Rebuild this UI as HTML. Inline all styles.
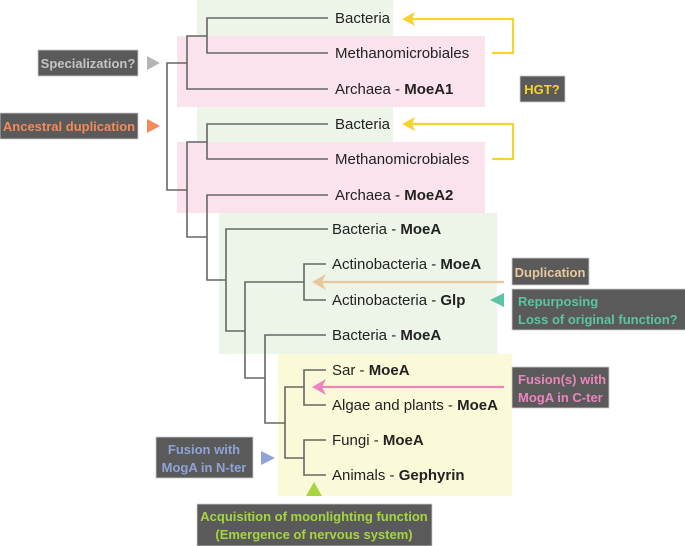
<!DOCTYPE html>
<html><head><meta charset="utf-8"><style>
html,body{margin:0;padding:0;background:#fff;}
svg{display:block;font-family:"Liberation Sans","DejaVu Sans",sans-serif;}
.l{font-size:15px;fill:#222;}
.b{font-weight:bold;}
.box{fill:#5a5a5a;stroke:#ccc;stroke-width:0.8;}
.t{font-size:13px;font-weight:bold;}
</style></head><body>
<svg width="685" height="546" viewBox="0 0 685 546" xmlns="http://www.w3.org/2000/svg">
<rect x="197" y="0" width="196" height="107" fill="#edf5e9"/>
<rect x="177" y="36" width="308" height="71" fill="#fbe3ee"/>
<rect x="197" y="107" width="196" height="106" fill="#edf5e9"/>
<rect x="177" y="142" width="308" height="71" fill="#fbe3ee"/>
<rect x="219" y="213" width="278" height="141" fill="#edf5e9"/>
<rect x="278" y="354" width="234" height="142" fill="#fbfad8"/>
<g stroke="#666" stroke-width="1.6" fill="none">
<path d="M328 18H207V53H328M207 36H187V89H328M187 63H167V190H187"/>
<path d="M328 124H207V159H328M207 142H187V237H207M328 195H207V280H226"/>
<path d="M328 229H226V331H245M326 264H304V300H326M304 282H245V378H265"/>
<path d="M326 335H265V423H285M326 370H304V405H326M304 387H285V458H304M326 440H304V475H326"/>
</g>
<text class="l" x="335" y="23">Bacteria</text>
<text class="l" x="335" y="58">Methanomicrobiales</text>
<text class="l" x="335" y="94">Archaea - <tspan class="b">MoeA1</tspan></text>
<text class="l" x="335" y="129">Bacteria</text>
<text class="l" x="335" y="164">Methanomicrobiales</text>
<text class="l" x="335" y="200">Archaea - <tspan class="b">MoeA2</tspan></text>
<text class="l" x="332" y="234">Bacteria - <tspan class="b">MoeA</tspan></text>
<text class="l" x="332" y="269">Actinobacteria - <tspan class="b">MoeA</tspan></text>
<text class="l" x="332" y="305">Actinobacteria - <tspan class="b">Glp</tspan></text>
<text class="l" x="332" y="340">Bacteria - <tspan class="b">MoeA</tspan></text>
<text class="l" x="332" y="375">Sar - <tspan class="b">MoeA</tspan></text>
<text class="l" x="332" y="410">Algae and plants - <tspan class="b">MoeA</tspan></text>
<text class="l" x="332" y="445">Fungi - <tspan class="b">MoeA</tspan></text>
<text class="l" x="332" y="480">Animals - <tspan class="b">Gephyrin</tspan></text>
<g stroke="#f7d22c" stroke-width="2.2" fill="none">
<path d="M492 53H513V19H410"/><path d="M492 159H513V124H410"/>
</g>
<path d="M402 19L415 12L412 19L415 26Z" fill="#f7d22c"/>
<path d="M402 124L415 117L412 124L415 131Z" fill="#f7d22c"/>
<rect class="box" x="520" y="76" width="45" height="26"/>
<text class="t" x="542" y="94" text-anchor="middle" fill="#f7d22c">HGT?</text>
<rect class="box" x="38" y="50" width="100" height="26"/>
<text class="t" x="88" y="68" text-anchor="middle" fill="#c4c4c4">Specialization?</text>
<path d="M147 56L160 63L147 70Z" fill="#b5b5b5"/>
<rect class="box" x="0" y="113" width="138" height="26"/>
<text class="t" x="69" y="131" text-anchor="middle" fill="#f4895c">Ancestral duplication</text>
<path d="M147 119L160 126L147 133Z" fill="#f4895c"/>
<line x1="322" y1="282" x2="504" y2="282" stroke="#e8c89a" stroke-width="2.2"/>
<path d="M312 282L326 274L322 282L326 290Z" fill="#e8c89a"/>
<rect class="box" x="512" y="258" width="77" height="27"/>
<text class="t" x="550" y="277" text-anchor="middle" fill="#e8c89a">Duplication</text>
<path d="M490 300L504 293V307Z" fill="#5cc4a0"/>
<rect class="box" x="512" y="289" width="175" height="41"/>
<text class="t" x="518" y="306" fill="#5cc4a0">Repurposing</text>
<text class="t" x="518" y="324" fill="#5cc4a0">Loss of original function?</text>
<line x1="322" y1="387" x2="504" y2="387" stroke="#ea85bd" stroke-width="2.2"/>
<path d="M312 387L326 379L322 387L326 395Z" fill="#ea85bd"/>
<rect class="box" x="512" y="367" width="97" height="41"/>
<text class="t" x="518" y="384" fill="#ea85bd">Fusion(s) with</text>
<text class="t" x="518" y="402" fill="#ea85bd">MogA in C-ter</text>
<rect class="box" x="156" y="437" width="97" height="41"/>
<text class="t" x="204" y="454" text-anchor="middle" fill="#8fa3d8">Fusion with</text>
<text class="t" x="204" y="472" text-anchor="middle" fill="#8fa3d8">MogA in N-ter</text>
<path d="M261 451L275 458L261 465Z" fill="#8fa3d8"/>
<path d="M306 496L314 482L322 496Z" fill="#a5d63f"/>
<rect class="box" x="197" y="504" width="235" height="42"/>
<text class="t" x="314" y="521" text-anchor="middle" fill="#a5d63f">Acquisition of moonlighting function</text>
<text class="t" x="314" y="539" text-anchor="middle" fill="#a5d63f">(Emergence of nervous system)</text>
</svg>
</body></html>
